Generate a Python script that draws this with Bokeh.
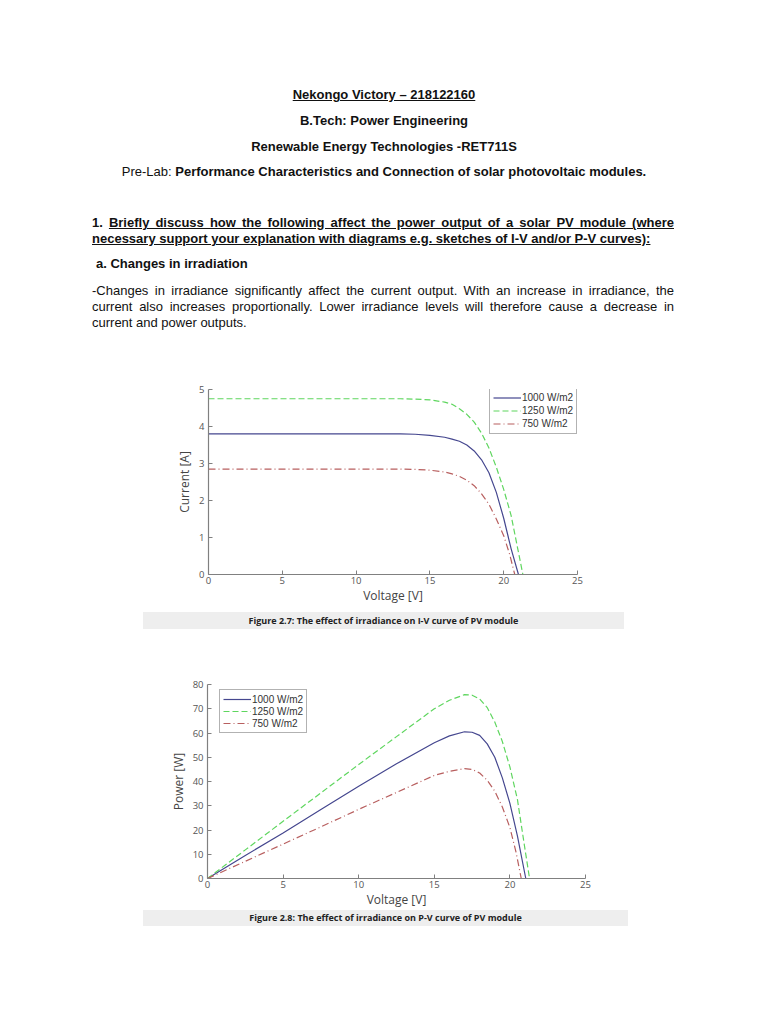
from bokeh.plotting import figure
from bokeh.models import Div, Range1d, Legend, LegendItem, FixedTicker
from bokeh.layouts import column, row
from bokeh.embed import file_html
from bokeh.resources import INLINE

# ---------------- data ----------------
series_labels = ["1000 W/m2", "1250 W/m2", "750 W/m2"]

# I-V curves
iv_v_1000 = [0, 5, 10, 13, 14, 15, 16, 16.5, 17, 17.5, 18, 18.5, 19, 19.5, 20, 20.5, 21.0]
iv_i_1000 = [3.8, 3.8, 3.8, 3.8, 3.79, 3.76, 3.71, 3.66, 3.6, 3.5, 3.34, 3.1, 2.75, 2.22, 1.52, 0.7, 0.0]
iv_v_1250 = [0, 5, 10, 13, 14, 15, 16, 16.5, 17, 17.5, 18, 18.5, 19, 19.5, 20, 20.5, 21.0, 21.3]
iv_i_1250 = [4.75, 4.75, 4.75, 4.75, 4.74, 4.72, 4.66, 4.6, 4.48, 4.33, 4.12, 3.82, 3.42, 2.9, 2.3, 1.6, 0.6, 0.0]
iv_v_750 = [0, 5, 10, 13, 14, 15, 16, 16.5, 17, 17.5, 18, 18.5, 19, 19.5, 20, 20.4, 20.75]
iv_i_750 = [2.85, 2.85, 2.85, 2.85, 2.84, 2.82, 2.77, 2.72, 2.65, 2.55, 2.4, 2.18, 1.9, 1.5, 1.05, 0.55, 0.0]

# P-V curves
pv_v_1000 = [0, 2.5, 5, 7.5, 10, 12.5, 15, 16, 17, 17.5, 18, 18.5, 19, 19.5, 20, 20.5, 21.05]
pv_p_1000 = [0, 9.5, 18.8, 28.5, 38, 47.3, 56, 58.8, 60.5, 60.3, 59, 55.5, 50, 41.5, 31, 17.5, 0]
pv_v_1250 = [0, 2.5, 5, 7.5, 10, 12.5, 15, 16, 17, 17.5, 18, 18.5, 19, 19.5, 20, 20.5, 21, 21.3]
pv_p_1250 = [0, 11.8, 23.6, 35.3, 47, 58.5, 70, 73.5, 75.8, 75.6, 74, 70.5, 64.5, 56.5, 46, 32.5, 12, 0]
pv_v_750 = [0, 2.5, 5, 7.5, 10, 12.5, 15, 16, 17, 17.5, 18, 18.5, 19, 19.5, 20, 20.4, 20.75]
pv_p_750 = [0, 7.1, 14.2, 21.3, 28.5, 35.5, 42.5, 44.2, 45.3, 45.0, 43.5, 40.5, 36, 29.5, 21, 11, 0]

x_ticks = [0, 5, 10, 15, 20, 25]
iv_y_ticks = [0, 1, 2, 3, 4, 5]
pv_y_ticks = [0, 10, 20, 30, 40, 50, 60, 70, 80]

# ---------------- styles ----------------
colors = ["#45478f", "#5fd65f", "#b85f5f"]
dashes = ["solid", "6 3", "7 3 1 3"]
CHART_FONT = "Open Sans"
DOC_FONT = "'Liberation Sans', Arial, sans-serif"
PAGE_W = 760


def line_div(top, left, width, align, html, extra=""):
    return (f'<div style="position:absolute;top:{top}px;left:{left}px;width:{width}px;'
            f'text-align:{align};white-space:nowrap;{extra}">{html}</div>')


J = "text-align-last:justify;"
header_lines = [
    line_div(87, 8, 752, "center", '<b><u>Nekongo Victory – 218122160</u></b>'),
    line_div(113, 8, 752, "center", '<b>B.Tech: Power Engineering</b>'),
    line_div(139, 8, 752, "center", '<b>Renewable Energy Technologies -RET711S</b>'),
    line_div(164, 8, 752, "center",
             'Pre-Lab: <b>Performance Characteristics and Connection of solar photovoltaic modules.</b>'),
    line_div(215, 92, 582, "justify",
             '<b>1. <u>Briefly discuss how the following affect the power output of a solar PV module (where</u></b>', J),
    line_div(231, 92, 582, "left",
             '<b><u>necessary support your explanation with diagrams e.g. sketches of I-V and/or P-V curves):</u></b>'),
    line_div(256, 96, 582, "left", '<b>a. Changes in irradiation</b>'),
    line_div(283, 92, 582, "justify",
             '-Changes in irradiance significantly affect the current output. With an increase in irradiance, the', J),
    line_div(299, 92, 582, "justify",
             'current also increases proportionally. Lower irradiance levels will therefore cause a decrease in', J),
    line_div(315, 92, 582, "left", 'current and power outputs.'),
]
header_html = (f'<div style="position:relative;width:{PAGE_W}px;height:375px;font-family:{DOC_FONT};'
               f'font-size:13px;line-height:16px;color:#111;">' + "".join(header_lines) + '</div>')
header = Div(text=header_html, width=PAGE_W, height=375, margin=0)


def caption(text, height, band_top, band_h, band_left, band_w):
    html = (f'<div style="position:relative;width:{PAGE_W}px;height:{height}px;">'
            f'<div style="position:absolute;top:{band_top}px;left:{band_left}px;width:{band_w}px;'
            f'height:{band_h}px;background:#eeeeee;text-align:center;font-family:\'Open Sans\';'
            f'font-weight:bold;font-size:9px;line-height:{band_h}px;color:#222;">{text}</div></div>')
    return Div(text=html, width=PAGE_W, height=height, margin=0)


def make_chart(height, left, frame_w, top, frame_h, y_end, y_ticks, y_label, xs, ys, legend_loc, lab_h):
    p = figure(width=PAGE_W, height=height, output_backend="svg", toolbar_location=None,
               x_range=Range1d(0, 25), y_range=Range1d(0, y_end), margin=0,
               min_border_left=left, min_border_right=PAGE_W - left - frame_w,
               min_border_top=top, min_border_bottom=height - top - frame_h)
    p.outline_line_color = None
    p.xgrid.visible = False
    p.ygrid.visible = False
    p.background_fill_color = "white"
    p.border_fill_color = "white"
    for ax, ticks in ((p.xaxis, x_ticks), (p.yaxis, y_ticks)):
        ax.ticker = FixedTicker(ticks=ticks)
        ax.axis_line_color = "#808080"
        ax.axis_line_width = 1.2
        ax.major_tick_line_color = "#808080"
        ax.major_tick_in = 4
        ax.major_tick_out = 0
        ax.minor_tick_line_color = None
        ax.major_label_text_font = CHART_FONT
        ax.major_label_text_font_size = "9.5px"
        ax.major_label_text_color = "#555555"
        ax.axis_label_text_font = CHART_FONT
        ax.axis_label_text_font_size = "12px"
        ax.axis_label_text_font_style = "normal"
        ax.axis_label_text_color = "#444444"
    p.xaxis.axis_label = "Voltage [V]"
    p.xaxis.major_label_standoff = 2
    p.xaxis.axis_label_standoff = 0
    p.yaxis.axis_label = y_label
    p.yaxis.major_label_standoff = 4
    p.yaxis.axis_label_standoff = 3

    items = []
    for i in range(3):
        r = p.line(xs[i], ys[i], line_color=colors[i], line_width=1.2, line_dash=dashes[i])
        items.append(LegendItem(label=series_labels[i], renderers=[r]))
    leg = Legend(items=items, location=legend_loc)
    leg.label_text_font = "Liberation Sans"
    leg.label_text_font_size = "10px"
    leg.label_text_color = "#333333"
    leg.label_standoff = 1
    leg.label_height = lab_h
    leg.glyph_height = lab_h
    leg.glyph_width = 28
    leg.spacing = 0
    leg.padding = 3
    leg.margin = 0
    leg.border_line_color = "#666666"
    leg.border_line_width = 1
    leg.background_fill_color = "white"
    leg.background_fill_alpha = 1.0
    p.add_layout(leg, "center")
    return p


p1 = make_chart(234, 208, 369, 14, 185, 5, iv_y_ticks, "Current [A]",
                [iv_v_1000, iv_v_1250, iv_v_750], [iv_i_1000, iv_i_1250, iv_i_750], (281, 140), 13)
cap1 = caption("Figure 2.7: The effect of irradiance on I-V curve of PV module", 61, 3, 17, 143, 481)
p2 = make_chart(240, 207, 378, 14, 195, 80, pv_y_ticks, "Power [W]",
                [pv_v_1000, pv_v_1250, pv_v_750], [pv_p_1000, pv_p_1250, pv_p_750], (12, 145), 12)
cap2 = caption("Figure 2.8: The effect of irradiance on P-V curve of PV module", 30, 0, 16, 143, 485)

page = column(header, row(p1, margin=0), cap1, row(p2, margin=0), cap2, spacing=0, margin=0)
open("out.html", "w").write(file_html(page, INLINE))
